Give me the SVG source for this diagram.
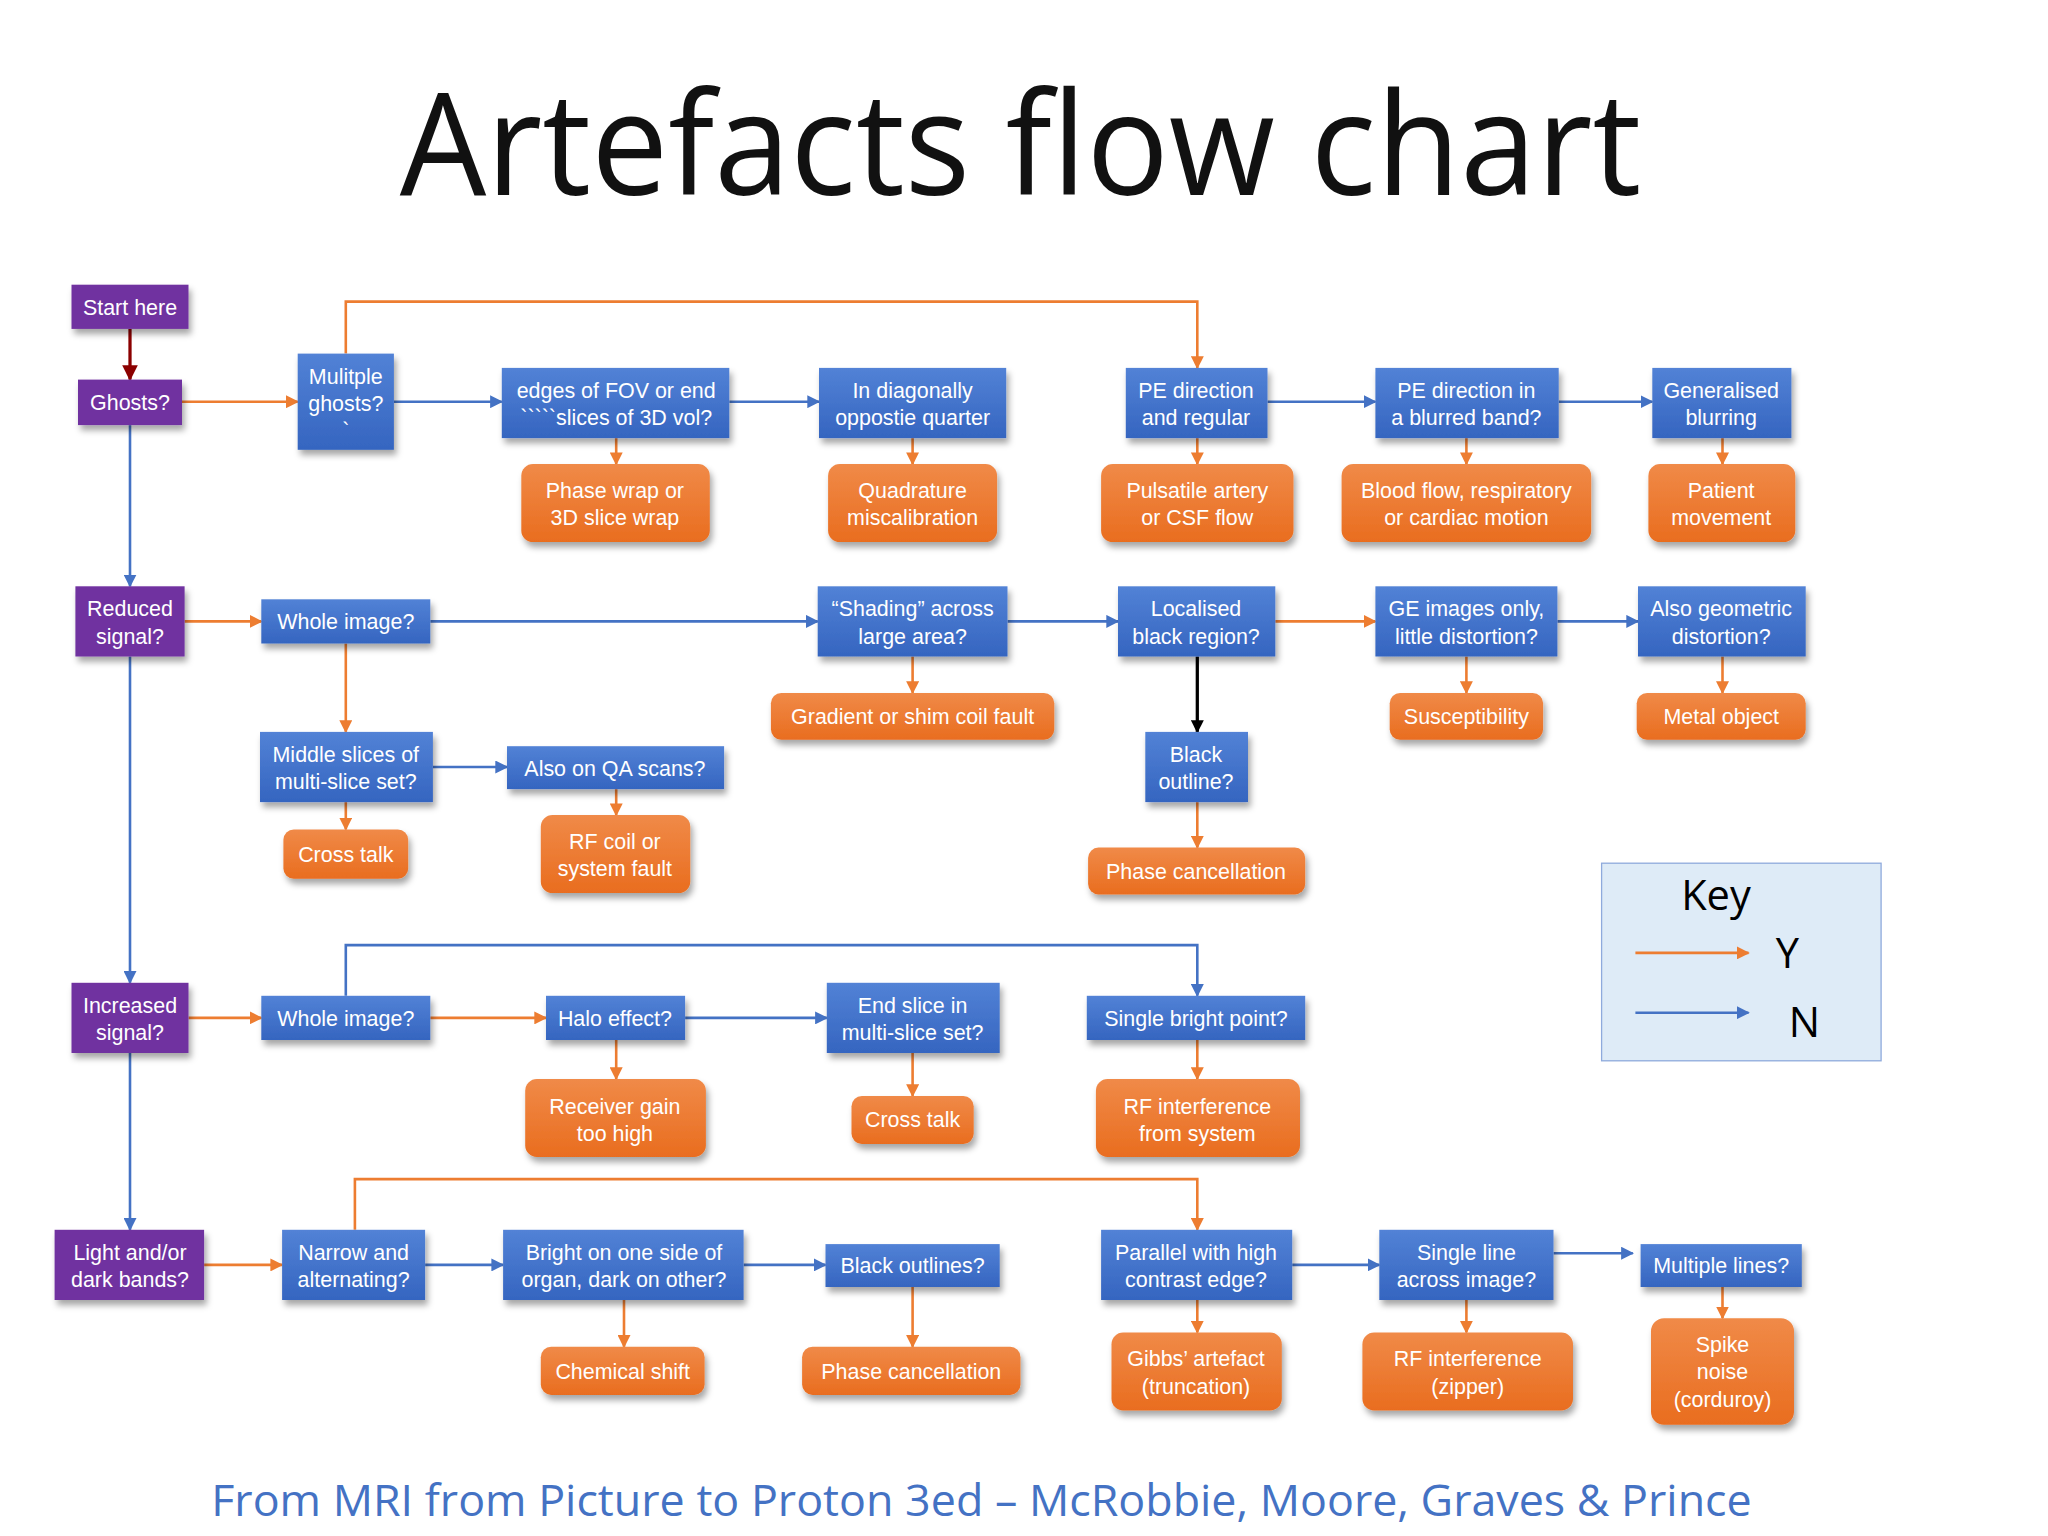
<svg xmlns="http://www.w3.org/2000/svg" width="2048" height="1536" viewBox="0 0 2048 1536">
<defs>
<linearGradient id="gb" x1="0" y1="0" x2="0" y2="1"><stop offset="0" stop-color="#5282d6"/><stop offset="1" stop-color="#3565c0"/></linearGradient>
<linearGradient id="go" x1="0" y1="0" x2="0" y2="1"><stop offset="0" stop-color="#f08a48"/><stop offset="1" stop-color="#e96d1f"/></linearGradient>
<filter id="sh" x="-20%" y="-20%" width="150%" height="160%"><feDropShadow dx="2" dy="4" stdDeviation="2.5" flood-color="#000" flood-opacity="0.35"/></filter>
<marker id="ao" markerWidth="10" markerHeight="10" refX="9" refY="5" orient="auto" markerUnits="userSpaceOnUse"><path d="M0,0 L10,5 L0,10 z" fill="#ed7d31"/></marker>
<marker id="ab" markerWidth="10" markerHeight="10" refX="9" refY="5" orient="auto" markerUnits="userSpaceOnUse"><path d="M0,0 L10,5 L0,10 z" fill="#4472c4"/></marker>
<marker id="ak" markerWidth="10" markerHeight="10" refX="9" refY="5" orient="auto" markerUnits="userSpaceOnUse"><path d="M0,0 L10,5 L0,10 z" fill="#000"/></marker>
<marker id="ar" markerWidth="12" markerHeight="12" refX="11" refY="6" orient="auto" markerUnits="userSpaceOnUse"><path d="M0,0 L12,6 L0,12 z" fill="#8b0000"/></marker>
<style>
.p{fill:#7030a0;filter:url(#sh)}
.b{fill:url(#gb);filter:url(#sh)}
.o{fill:url(#go);filter:url(#sh)}
text{font-family:"Liberation Sans",Arial,sans-serif}
.t{fill:#fff;font-size:16.5px;text-anchor:middle}
.co{stroke:#ed7d31;stroke-width:2;fill:none;marker-end:url(#ao)}
.cb{stroke:#4472c4;stroke-width:2;fill:none;marker-end:url(#ab)}
</style>
</defs>
<rect width="2048" height="1536" fill="#fff"/>
<g transform="scale(1.30)">
<text x="785" y="150" font-size="110" text-anchor="middle" textLength="955" lengthAdjust="spacingAndGlyphs" style='font-family:"Open Sans","Liberation Sans",sans-serif' fill="#111">Artefacts flow chart</text>

<g id="connectors">
<path d="M100,253 V292" stroke="#8b0000" stroke-width="2.5" marker-end="url(#ar)"/>
<path class="co" d="M140,309 H229"/>
<path class="cb" d="M100,327 V451"/>
<path class="cb" d="M303,309 H386"/>
<path class="co" d="M266,272 V232 H921 V283"/>
<path class="co" d="M474,337 V357"/>
<path class="cb" d="M561,309 H630"/>
<path class="co" d="M702,337 V357"/>
<path class="co" d="M921,337 V357"/>
<path class="cb" d="M975,309 H1058"/>
<path class="co" d="M1128,337 V357"/>
<path class="cb" d="M1199,309 H1271"/>
<path class="co" d="M1325,337 V357"/>
<path class="co" d="M142,478 H201"/>
<path class="cb" d="M100,505 V756"/>
<path class="cb" d="M331,478 H629"/>
<path class="co" d="M266,495 V563"/>
<path class="co" d="M702,505 V533"/>
<path class="cb" d="M775,478 H860"/>
<path class="co" d="M981,478 H1058"/>
<path d="M921,505 V563" stroke="#000" stroke-width="2.5" marker-end="url(#ak)"/>
<path class="cb" d="M1198,478 H1260"/>
<path class="co" d="M1128,505 V533"/>
<path class="co" d="M1325,505 V533"/>
<path class="cb" d="M333,590 H390"/>
<path class="co" d="M266,617 V638"/>
<path class="co" d="M474,607 V627"/>
<path class="co" d="M921,617 V652"/>
<path class="co" d="M145,783 H201"/>
<path class="cb" d="M100,810 V946"/>
<path class="co" d="M331,783 H420"/>
<path class="cb" d="M266,766 V727 H921 V766"/>
<path class="co" d="M474,800 V830"/>
<path class="cb" d="M527,783 H636"/>
<path class="co" d="M702,810 V843"/>
<path class="co" d="M921,800 V830"/>
<path class="co" d="M157,973 H217"/>
<path class="co" d="M273,946 V907 H921 V946"/>
<path class="cb" d="M327,973 H387"/>
<path class="co" d="M480,1000 V1036"/>
<path class="cb" d="M572,973 H635"/>
<path class="co" d="M702,990 V1036"/>
<path class="co" d="M921,1000 V1025"/>
<path class="cb" d="M994,973 H1061"/>
<path class="co" d="M1128,1000 V1025"/>
<path class="cb" d="M1195,964 H1256"/>
<path class="co" d="M1325,990 V1014"/>
</g>

<g id="start"><rect class="p" x="55" y="219" width="90" height="34"/><text class="t" x="100" y="242">Start here</text></g>
<g id="ghosts"><rect class="p" x="60" y="292" width="80" height="35"/><text class="t" x="100" y="315">Ghosts?</text></g>
<g id="reduced"><rect class="p" x="58" y="451" width="84" height="54"/><text class="t" x="100" y="474">Reduced</text><text class="t" x="100" y="495">signal?</text></g>
<g id="increased"><rect class="p" x="55" y="756" width="90" height="54"/><text class="t" x="100" y="779">Increased</text><text class="t" x="100" y="800">signal?</text></g>
<g id="bands"><rect class="p" x="42" y="946" width="115" height="54"/><text class="t" x="100" y="969">Light and/or</text><text class="t" x="100" y="990">dark bands?</text></g>

<g id="multiple"><rect class="b" x="229" y="272" width="74" height="74"/><text class="t" x="266" y="295">Mulitple</text><text class="t" x="266" y="316">ghosts?</text><text class="t" x="266" y="337">`</text></g>
<g id="edges"><rect class="b" x="386" y="283" width="175" height="54"/><text class="t" x="474" y="306">edges of FOV or end</text><text class="t" x="474" y="327">`````slices of 3D vol?</text></g>
<g id="diag"><rect class="b" x="630" y="283" width="144" height="54"/><text class="t" x="702" y="306">In diagonally</text><text class="t" x="702" y="327">oppostie quarter</text></g>
<g id="pe"><rect class="b" x="866" y="283" width="109" height="54"/><text class="t" x="920" y="306">PE direction</text><text class="t" x="920" y="327">and regular</text></g>
<g id="peb"><rect class="b" x="1058" y="283" width="141" height="54"/><text class="t" x="1128" y="306">PE direction in</text><text class="t" x="1128" y="327">a blurred band?</text></g>
<g id="gen"><rect class="b" x="1271" y="283" width="107" height="54"/><text class="t" x="1324" y="306">Generalised</text><text class="t" x="1324" y="327">blurring</text></g>
<g id="whole1"><rect class="b" x="201" y="461" width="130" height="34"/><text class="t" x="266" y="484">Whole image?</text></g>
<g id="shading"><rect class="b" x="629" y="451" width="146" height="54"/><text class="t" x="702" y="474">“Shading” across</text><text class="t" x="702" y="495">large area?</text></g>
<g id="local"><rect class="b" x="860" y="451" width="121" height="54"/><text class="t" x="920" y="474">Localised</text><text class="t" x="920" y="495">black region?</text></g>
<g id="ge"><rect class="b" x="1058" y="451" width="140" height="54"/><text class="t" x="1128" y="474">GE images only,</text><text class="t" x="1128" y="495">little distortion?</text></g>
<g id="geo"><rect class="b" x="1260" y="451" width="129" height="54"/><text class="t" x="1324" y="474">Also geometric</text><text class="t" x="1324" y="495">distortion?</text></g>
<g id="middle"><rect class="b" x="200" y="563" width="133" height="54"/><text class="t" x="266" y="586">Middle slices of</text><text class="t" x="266" y="607">multi-slice set?</text></g>
<g id="qa"><rect class="b" x="390" y="574" width="167" height="33"/><text class="t" x="473" y="597">Also on QA scans?</text></g>
<g id="bo"><rect class="b" x="881" y="563" width="79" height="54"/><text class="t" x="920" y="586">Black</text><text class="t" x="920" y="607">outline?</text></g>
<g id="whole2"><rect class="b" x="201" y="766" width="130" height="34"/><text class="t" x="266" y="789">Whole image?</text></g>
<g id="halo"><rect class="b" x="420" y="766" width="107" height="34"/><text class="t" x="473" y="789">Halo effect?</text></g>
<g id="endslice"><rect class="b" x="636" y="756" width="133" height="54"/><text class="t" x="702" y="779">End slice in</text><text class="t" x="702" y="800">multi-slice set?</text></g>
<g id="sbp"><rect class="b" x="836" y="766" width="168" height="34"/><text class="t" x="920" y="789">Single bright point?</text></g>
<g id="narrow"><rect class="b" x="217" y="946" width="110" height="54"/><text class="t" x="272" y="969">Narrow and</text><text class="t" x="272" y="990">alternating?</text></g>
<g id="bright"><rect class="b" x="387" y="946" width="185" height="54"/><text class="t" x="480" y="969">Bright on one side of</text><text class="t" x="480" y="990">organ, dark on other?</text></g>
<g id="bos"><rect class="b" x="635" y="957" width="134" height="33"/><text class="t" x="702" y="979">Black outlines?</text></g>
<g id="parallel"><rect class="b" x="847" y="946" width="147" height="54"/><text class="t" x="920" y="969">Parallel with high</text><text class="t" x="920" y="990">contrast edge?</text></g>
<g id="sline"><rect class="b" x="1061" y="946" width="134" height="54"/><text class="t" x="1128" y="969">Single line</text><text class="t" x="1128" y="990">across image?</text></g>
<g id="mlines"><rect class="b" x="1262" y="957" width="124" height="33"/><text class="t" x="1324" y="979">Multiple lines?</text></g>

<g id="o1"><rect class="o" x="401" y="357" width="145" height="60" rx="9"/><text class="t" x="473" y="383">Phase wrap or</text><text class="t" x="473" y="404">3D slice wrap</text></g>
<g id="o2"><rect class="o" x="637" y="357" width="130" height="60" rx="9"/><text class="t" x="702" y="383">Quadrature</text><text class="t" x="702" y="404">miscalibration</text></g>
<g id="o3"><rect class="o" x="847" y="357" width="148" height="60" rx="9"/><text class="t" x="921" y="383">Pulsatile artery</text><text class="t" x="921" y="404">or CSF flow</text></g>
<g id="o4"><rect class="o" x="1032" y="357" width="192" height="60" rx="9"/><text class="t" x="1128" y="383">Blood flow, respiratory</text><text class="t" x="1128" y="404">or cardiac motion</text></g>
<g id="o5"><rect class="o" x="1268" y="357" width="113" height="60" rx="9"/><text class="t" x="1324" y="383">Patient</text><text class="t" x="1324" y="404">movement</text></g>
<g id="o6"><rect class="o" x="593" y="533" width="218" height="36" rx="8"/><text class="t" x="702" y="557">Gradient or shim coil fault</text></g>
<g id="o7"><rect class="o" x="1069" y="533" width="118" height="36" rx="8"/><text class="t" x="1128" y="557">Susceptibility</text></g>
<g id="o8"><rect class="o" x="1259" y="533" width="130" height="36" rx="8"/><text class="t" x="1324" y="557">Metal object</text></g>
<g id="o9"><rect class="o" x="218" y="638" width="96" height="38" rx="8"/><text class="t" x="266" y="663">Cross talk</text></g>
<g id="o10"><rect class="o" x="416" y="627" width="115" height="60" rx="9"/><text class="t" x="473" y="653">RF coil or</text><text class="t" x="473" y="674">system fault</text></g>
<g id="o11"><rect class="o" x="837" y="652" width="167" height="36" rx="8"/><text class="t" x="920" y="676">Phase cancellation</text></g>
<g id="o12"><rect class="o" x="404" y="830" width="139" height="60" rx="9"/><text class="t" x="473" y="857">Receiver gain</text><text class="t" x="473" y="878">too high</text></g>
<g id="o13"><rect class="o" x="655" y="843" width="94" height="37" rx="8"/><text class="t" x="702" y="867">Cross talk</text></g>
<g id="o14"><rect class="o" x="843" y="830" width="157" height="60" rx="9"/><text class="t" x="921" y="857">RF interference</text><text class="t" x="921" y="878">from system</text></g>
<g id="o15"><rect class="o" x="416" y="1036" width="126" height="37" rx="8"/><text class="t" x="479" y="1061">Chemical shift</text></g>
<g id="o16"><rect class="o" x="617" y="1036" width="168" height="37" rx="8"/><text class="t" x="701" y="1061">Phase cancellation</text></g>
<g id="o17"><rect class="o" x="855" y="1025" width="131" height="60" rx="9"/><text class="t" x="920" y="1051">Gibbs’ artefact</text><text class="t" x="920" y="1072">(truncation)</text></g>
<g id="o18"><rect class="o" x="1048" y="1025" width="162" height="60" rx="9"/><text class="t" x="1129" y="1051">RF interference</text><text class="t" x="1129" y="1072">(zipper)</text></g>
<g id="o19"><rect class="o" x="1270" y="1014" width="110" height="82" rx="10"/><text class="t" x="1325" y="1040">Spike</text><text class="t" x="1325" y="1061">noise</text><text class="t" x="1325" y="1082">(corduroy)</text></g>

<g id="key">
<rect x="1232" y="664" width="215" height="152" fill="#deebf7" stroke="#8faadc" stroke-width="1"/>
<text x="1320" y="700" font-size="32" text-anchor="middle" style='font-family:"Open Sans","Liberation Sans",sans-serif'>Key</text>
<path class="co" d="M1258,733 H1345"/>
<text x="1375" y="745" font-size="32" text-anchor="middle" style='font-family:"Open Sans","Liberation Sans",sans-serif'>Y</text>
<path class="cb" d="M1258,779 H1345"/>
<text x="1388" y="798" font-size="32" text-anchor="middle" style='font-family:"Open Sans","Liberation Sans",sans-serif'>N</text>
</g>

<text x="755" y="1166" font-size="33" text-anchor="middle" fill="#4472c4" textLength="1185" lengthAdjust="spacingAndGlyphs" style='font-family:"Open Sans","Liberation Sans",sans-serif'>From MRI from Picture to Proton 3ed – McRobbie, Moore, Graves &amp; Prince</text>
</g>
</svg>
